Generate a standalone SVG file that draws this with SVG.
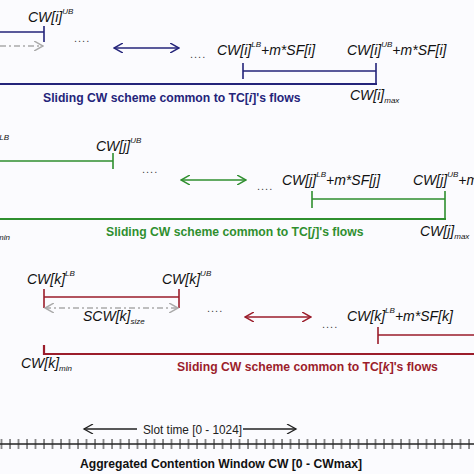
<svg xmlns="http://www.w3.org/2000/svg" width="474" height="474" viewBox="0 0 474 474">
<defs>
<style>
.lbl{font-family:"Liberation Sans",Arial,sans-serif;font-style:italic;font-size:14px;fill:#111;}
.sup{font-size:8px;}
.dots{font-family:"Liberation Sans",Arial,sans-serif;font-size:11px;fill:#444;letter-spacing:1px;}
.title{font-family:"Liberation Sans",Arial,sans-serif;font-weight:bold;font-size:12.2px;}
.ln{fill:none;stroke-width:1.6;}
.thick{fill:none;stroke-width:2.2;}
.navy{stroke:#24247a;}
.green{stroke:#2f8f2f;}
.red{stroke:#9b1d2b;}
.gray{stroke:#aaaaaa;stroke-dasharray:6 3 2 3;}
.blk{stroke:#222;}
</style>
<marker id="aN" viewBox="0 0 10 10" refX="9" refY="5" markerWidth="10" markerHeight="10" markerUnits="userSpaceOnUse" orient="auto-start-reverse"><path d="M0,0 L9,5 L0,10" fill="none" stroke="#24247a" stroke-width="1.5"/></marker>
<marker id="aG" viewBox="0 0 10 10" refX="9" refY="5" markerWidth="10" markerHeight="10" markerUnits="userSpaceOnUse" orient="auto-start-reverse"><path d="M0,0 L9,5 L0,10" fill="none" stroke="#2f8f2f" stroke-width="1.5"/></marker>
<marker id="aR" viewBox="0 0 10 10" refX="9" refY="5" markerWidth="10" markerHeight="10" markerUnits="userSpaceOnUse" orient="auto-start-reverse"><path d="M0,0 L9,5 L0,10" fill="none" stroke="#9b1d2b" stroke-width="1.5"/></marker>
<marker id="aY" viewBox="0 0 10 10" refX="9" refY="5" markerWidth="10" markerHeight="10" markerUnits="userSpaceOnUse" orient="auto-start-reverse"><path d="M0,0 L9,5 L0,10" fill="none" stroke="#aaaaaa" stroke-width="1.5"/></marker>
<marker id="aK" viewBox="0 0 10 10" refX="9" refY="5" markerWidth="12" markerHeight="10" markerUnits="userSpaceOnUse" orient="auto-start-reverse"><path d="M0,0 L9,5 L0,10" fill="none" stroke="#222" stroke-width="1.3"/></marker>
<pattern id="ticks" x="0.5" y="0" width="8.5" height="474" patternUnits="userSpaceOnUse"><line x1="1" y1="439" x2="1" y2="449" stroke="#222" stroke-width="1"/></pattern>
</defs>
<rect width="474" height="474" fill="#fbfbfe"/>

<g id="connectors">
<path class="ln navy" d="M0,32 H44 M44,26 V42"/>
<line class="ln gray" x1="0" y1="46" x2="43" y2="46" marker-end="url(#aY)"/>
<line class="ln navy" x1="114" y1="48" x2="179" y2="48" marker-start="url(#aN)" marker-end="url(#aN)"/>
<path class="ln navy" d="M243,63 V79 M243,71 H376 M376,63 V85"/>
<line class="thick navy" x1="0" y1="84" x2="377" y2="84"/>
<path class="ln green" d="M0,161 H113 M113,153 V169"/>
<line class="ln green" x1="181" y1="180" x2="246" y2="180" marker-start="url(#aG)" marker-end="url(#aG)"/>
<path class="ln green" d="M312,191 V208 M312,199 H445 M445,191 V219"/>
<line class="thick green" x1="0" y1="219" x2="446" y2="219"/>
<path class="ln red" d="M44,289 V308 M44,297 H179 M179,289 V308"/>
<line class="ln gray" x1="45" y1="308" x2="178" y2="308" marker-start="url(#aY)" marker-end="url(#aY)"/>
<line class="ln red" x1="245" y1="317" x2="311" y2="317" marker-start="url(#aR)" marker-end="url(#aR)"/>
<path class="ln red" d="M378,327 V344 M378,335 H474"/>
<path class="thick red" d="M44,345 V354 H474"/>
<line class="ln blk" x1="137" y1="429" x2="84" y2="429" stroke-width="1.2" marker-end="url(#aK)"/>
<line class="ln blk" x1="243" y1="429" x2="296" y2="429" stroke-width="1.2" marker-end="url(#aK)"/>
<line x1="0" y1="444" x2="474" y2="444" stroke="#222" stroke-width="1.5"/>
<rect x="0" y="438" width="474" height="12" fill="url(#ticks)"/>
</g>

<g id="row-i">
<text class="lbl" x="28" y="22">CW[i]<tspan class="sup" dy="-8">UB</tspan></text>
<text class="dots" x="74" y="42">....</text>
<text class="dots" x="190" y="58">....</text>
<text class="lbl" x="217" y="55">CW[i]<tspan class="sup" dy="-8">LB</tspan><tspan dy="8">+m*SF[i]</tspan></text>
<text class="lbl" x="347" y="55">CW[i]<tspan class="sup" dy="-8">UB</tspan><tspan dy="8">+m*SF[i]</tspan></text>
<text class="lbl" x="350" y="100">CW[i]<tspan class="sup" dy="3">max</tspan></text>
<text class="title" x="43" y="102" fill="#24247a">Sliding CW scheme common to TC[<tspan font-style="italic">i</tspan>]'s flows</text>
</g>

<g id="row-j">
<text class="lbl" x="9" y="148" text-anchor="end">CW[j]<tspan class="sup" dy="-8">LB</tspan></text>
<text class="lbl" x="96" y="151">CW[j]<tspan class="sup" dy="-8">UB</tspan></text>
<text class="dots" x="142" y="173">....</text>
<text class="dots" x="257" y="190">....</text>
<text class="lbl" x="282" y="185">CW[j]<tspan class="sup" dy="-8">LB</tspan><tspan dy="8">+m*SF[j]</tspan></text>
<text class="lbl" x="413" y="185">CW[j]<tspan class="sup" dy="-8">UB</tspan><tspan dy="8">+m*SF[j]</tspan></text>
<text class="lbl" x="10" y="237" text-anchor="end">CW[j]<tspan class="sup" dy="3">min</tspan></text>
<text class="lbl" x="420" y="236">CW[j]<tspan class="sup" dy="3">max</tspan></text>
<text class="title" x="106" y="236" fill="#2f8f2f">Sliding CW scheme common to TC[<tspan font-style="italic">j</tspan>]'s flows</text>
</g>

<g id="row-k">
<text class="lbl" x="27" y="284">CW[k]<tspan class="sup" dy="-8">LB</tspan></text>
<text class="lbl" x="162" y="284">CW[k]<tspan class="sup" dy="-8">UB</tspan></text>
<text class="lbl" x="83" y="321">SCW[k]<tspan class="sup" dy="3">size</tspan></text>
<text class="dots" x="207" y="312">....</text>
<text class="dots" x="322" y="328">....</text>
<text class="lbl" x="347" y="321">CW[k]<tspan class="sup" dy="-8">LB</tspan><tspan dy="8">+m*SF[k]</tspan></text>
<text class="lbl" x="21" y="368">CW[k]<tspan class="sup" dy="3">min</tspan></text>
<text class="title" x="177" y="371" fill="#9b1d2b">Sliding CW scheme common to TC[<tspan font-style="italic">k</tspan>]'s flows</text>
</g>

<g id="axis">
<text x="143" y="434" font-family="'Liberation Sans',Arial,sans-serif" font-size="13" fill="#222" textLength="99" lengthAdjust="spacingAndGlyphs">Slot time [0 - 1024]</text>
<text class="title" x="80" y="468" fill="#111" textLength="282" lengthAdjust="spacingAndGlyphs">Aggregated Contention Window CW [0 - CWmax]</text>
</g>
</svg>
